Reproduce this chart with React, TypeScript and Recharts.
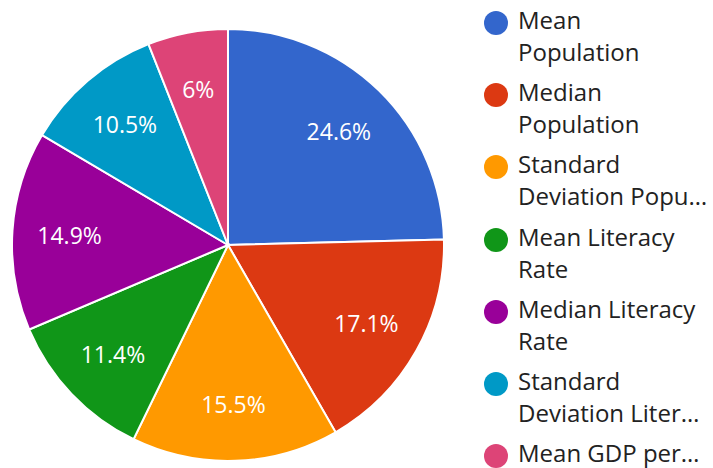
import React from "react";
import { PieChart, Pie, Cell, Legend } from "recharts";

const categories = [
  "Mean Population",
  "Median Population",
  "Standard Deviation Population",
  "Mean Literacy Rate",
  "Median Literacy Rate",
  "Standard Deviation Literacy Rate",
  "Mean GDP per Capita",
];
const shares = [24.6, 17.1, 15.5, 11.4, 14.9, 10.5, 6];
const legendLines = [
  ["Mean", "Population"],
  ["Median", "Population"],
  ["Standard", "Deviation Popu…"],
  ["Mean Literacy", "Rate"],
  ["Median Literacy", "Rate"],
  ["Standard", "Deviation Liter…"],
  ["Mean GDP per…"],
];
const colors = ["#3366cc", "#dc3912", "#ff9900", "#109618", "#990099", "#0099c6", "#dd4477"];

const data = categories.map((name, i) => ({ name, value: shares[i] }));

const FONT = "'Open Sans', 'Noto Sans', sans-serif";
const RAD = Math.PI / 180;

const renderLabel = (props: any) => {
  const { cx, cy, midAngle, outerRadius, value } = props;
  const r = outerRadius * 0.735;
  const x = cx + r * Math.cos(-midAngle * RAD);
  const y = cy + r * Math.sin(-midAngle * RAD);
  return (
    <text
      x={x}
      y={y}
      fill="#ffffff"
      textAnchor="middle"
      dominantBaseline="central"
      fontFamily={FONT}
      fontSize={23}
    >
      {`${value}%`}
    </text>
  );
};

const LegendContent = () => (
  <div style={{ fontFamily: FONT, fontSize: 24, color: "#222222" }}>
    {legendLines.map((lines, i) => (
      <div key={i} style={{ position: "relative", height: 72.2 }}>
        <div
          style={{
            position: "absolute",
            left: 0,
            top: 8,
            width: 24,
            height: 24,
            borderRadius: 12,
            background: colors[i],
          }}
        />
        <div style={{ position: "absolute", left: 34, top: 3, whiteSpace: "nowrap" }}>
          {lines.map((l, j) => (
            <div key={j} style={{ height: 28, lineHeight: "28px", marginBottom: j < lines.length - 1 ? 4 : 0 }}>
              {l}
            </div>
          ))}
        </div>
      </div>
    ))}
  </div>
);

export default function App() {
  return (
    <div style={{ position: "absolute", left: 0, top: 0, width: 713, height: 468, background: "#fff" }}>
      <PieChart width={713} height={468} margin={{ top: 0, right: 0, bottom: 0, left: 0 }}>
        <Pie
          data={data}
          dataKey="value"
          nameKey="name"
          cx={228}
          cy={245}
          outerRadius={216}
          startAngle={90}
          endAngle={-270}
          stroke="#ffffff"
          strokeWidth={2}
          label={renderLabel}
          labelLine={false}
          isAnimationActive={false}
        >
          {data.map((d, i) => (
            <Cell key={d.name} fill={colors[i]} />
          ))}
        </Pie>
        <Legend
          content={() => <LegendContent />}
          wrapperStyle={{ position: "absolute", left: 484, top: 3, width: 229, height: 464 }}
        />
      </PieChart>
    </div>
  );
}
